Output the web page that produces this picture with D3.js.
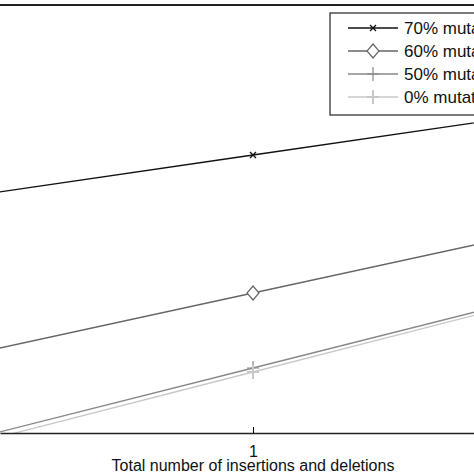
<!DOCTYPE html><html><head><script src="https://d3js.org/d3.v7.min.js"></script>
<style>body{margin:0;background:#fff}</style></head><body><svg id="c" width="474" height="474"></svg>
<script>
const xs=[0,1,2];
const series=["70% mutations","60% mutations","50% mutations","0% mutations"];
const v70=[211,278,345], v60=[40,140,240], v50=[-51,65,181], v0=[-57,61,179];
const xTicks=[1];
const colors=["#111","#666","#888","#c8c8c8"];
const data=[v70,v60,v50,v0];
const svg=d3.select("#c");
const x=d3.scaleLinear().domain([0.45,1.4804]).range([0,474]);
const y=d3.scaleLinear().domain([0,428]).range([433,5]);
svg.append("clipPath").attr("id","cp").append("rect").attr("x",0).attr("y",5).attr("width",474).attr("height",428);
const g=svg.append("g").attr("clip-path","url(#cp)");
const line=d3.line().x((d,i)=>x(xs[i])).y(d=>y(d));
function marker(sel,k,cx,cy){
 const c=colors[k];
 if(k===0){sel.append("path").attr("d",`M${cx-3},${cy-3}L${cx+3},${cy+3}M${cx-3},${cy+3}L${cx+3},${cy-3}`).attr("stroke",c).attr("stroke-width",1.3);}
 else if(k===1){sel.append("path").attr("d",`M${cx},${cy-7}L${cx+6},${cy}L${cx},${cy+7}L${cx-6},${cy}Z`).attr("fill","#fff").attr("stroke",c).attr("stroke-width",1.2);}
 else {sel.append("path").attr("d",`M${cx-6},${cy}L${cx+6},${cy}M${cx},${cy-7}L${cx},${cy+7}`).attr("stroke",c).attr("stroke-width",k===3?2:1.2);}
}
data.forEach((d,k)=>{
 g.append("path").attr("d",line(d)).attr("fill","none").attr("stroke",colors[k]).attr("stroke-width",1.3);
 d.forEach((v,i)=>marker(g,k,x(xs[i]),y(v)));
});
svg.append("line").attr("x1",0).attr("x2",474).attr("y1",5).attr("y2",5).attr("stroke","#222").attr("stroke-width",2);
const ax=svg.append("g").attr("transform","translate(0,433)").call(d3.axisBottom(x).tickValues(xTicks).tickSizeInner(-6).tickSizeOuter(0).tickPadding(13).tickFormat(d3.format("d")));
ax.select(".domain").attr("stroke","#222").attr("stroke-width",1.5);
ax.selectAll("text").attr("font-family","Liberation Sans, Arial").attr("font-size",16).attr("fill","#111");
svg.append("text").attr("x",253).attr("y",471).attr("text-anchor","middle").attr("font-family","Liberation Sans, Arial").attr("font-size",16).attr("fill","#111").text("Total number of insertions and deletions");
const lg=svg.append("g");
lg.append("rect").attr("x",330).attr("y",13).attr("width",160).attr("height",102).attr("fill","#fff").attr("stroke","#222").attr("stroke-width",1.2);
series.forEach((s,k)=>{
 const yy=28+k*23;
 lg.append("line").attr("x1",348).attr("x2",398).attr("y1",yy).attr("y2",yy).attr("stroke",colors[k]).attr("stroke-width",1.3);
 marker(lg,k,373,yy);
 lg.append("text").attr("x",404).attr("y",yy+6).attr("font-family","Liberation Sans, Arial").attr("font-size",17).attr("fill","#111").text(s);
});
</script></body></html>
